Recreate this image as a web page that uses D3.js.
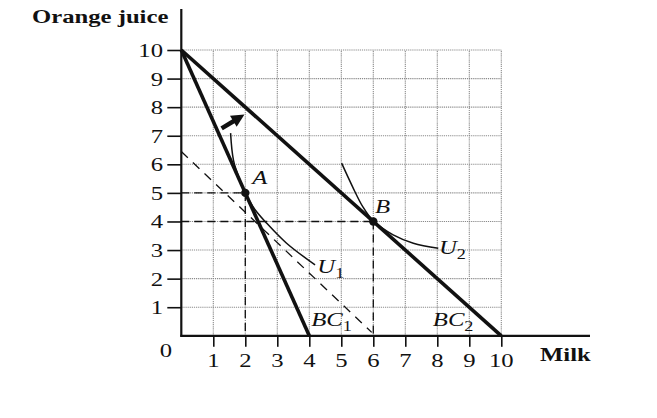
<!DOCTYPE html>
<html><head><meta charset="utf-8">
<script src="https://cdn.jsdelivr.net/npm/d3@7"></script>
<style>
html,body{margin:0;padding:0;background:#fff;}
svg{display:block;}
text{font-family:"Liberation Serif","Times New Roman",serif;fill:#111;}
</style></head>
<body>
<svg id="c" width="657" height="418"></svg>
<script>
// ---- data ----
const xTicks = [1,2,3,4,5,6,7,8,9,10];
const yTicks = [1,2,3,4,5,6,7,8,9,10];
const bc1 = [[0,10],[4,0]];
const bc2 = [[0,10],[10,0]];
const compLine = [[0,6.45],[5.95,0.12]];
const u1 = [[1.54,7.09],[1.63,6.15],[1.83,5.45],[2,5],[2.3,4.42],[2.67,3.94],[3.29,3.24],[4.18,2.48]];
const u2 = [[5.01,6.04],[5.35,5.22],[5.67,4.52],[6,4.02],[6.62,3.53],[7.25,3.24],[8.03,3.06]];
const points = [{name:"A",x:2,y:5},{name:"B",x:6,y:4}];
const arrow = [[1.26,7.26],[1.99,7.75]];
const labels = [
  {t:"A", s:"", x:2.22, y:5.3},
  {t:"B", s:"", x:6.05, y:4.3},
  {t:"U", s:"1", x:4.25, y:2.2},
  {t:"U", s:"2", x:8.05, y:2.85},
  {t:"BC", s:"1", x:4.06, y:0.34},
  {t:"BC", s:"2", x:7.86, y:0.34}
];

const SX = 1.3; // horizontal glyph stretch seen in the reference
const svg = d3.select("#c");
const x = d3.scaleLinear().domain([0,10]).range([181.3,501.3]);
const y = d3.scaleLinear().domain([0,10]).range([335.8,50]);

// grid
const g = svg.append("g");
g.selectAll(".gv").data(xTicks).join("line")
  .attr("x1",d=>x(d)).attr("x2",d=>x(d)).attr("y1",y(0)).attr("y2",y(10))
  .attr("stroke","#8a8a8a").attr("stroke-width",1.1).attr("stroke-dasharray","1.2,0.9");
g.selectAll(".gh").data(yTicks).join("line")
  .attr("x1",x(0)).attr("x2",x(10)).attr("y1",d=>y(d)).attr("y2",d=>y(d))
  .attr("stroke","#8a8a8a").attr("stroke-width",1.1).attr("stroke-dasharray","1.2,0.9");

// axes ticks via d3
const xa = svg.append("g").attr("transform",`translate(0,${y(0)})`)
  .call(d3.axisBottom(x).tickValues(xTicks).tickSize(11).tickFormat(""));
xa.select(".domain").remove();
xa.selectAll("line").attr("stroke","#111").attr("stroke-width",1.6);
const ya = svg.append("g").attr("transform",`translate(${x(0)},0)`)
  .call(d3.axisLeft(y).tickValues(yTicks).tickSize(14).tickFormat(""));
ya.select(".domain").remove();
ya.selectAll("line").attr("stroke","#111").attr("stroke-width",1.6);

// axis lines
svg.append("line").attr("x1",x(0)-1).attr("x2",590).attr("y1",y(0)).attr("y2",y(0))
  .attr("stroke","#111").attr("stroke-width",2.2);
svg.append("line").attr("x1",x(0)).attr("x2",x(0)).attr("y1",y(0)+1).attr("y2",9)
  .attr("stroke","#111").attr("stroke-width",2.2);

// tick labels
svg.selectAll(".xl").data(xTicks).join("text")
  .attr("transform",d=>`translate(${x(d)},366.5) scale(${SX},1)`)
  .attr("text-anchor","middle").attr("font-size",19).text(d=>d);
svg.selectAll(".yl").data(yTicks).join("text")
  .attr("transform",d=>`translate(163,${y(d)+7}) scale(${SX},1)`)
  .attr("text-anchor","end").attr("font-size",19).text(d=>d);
svg.append("text").attr("transform",`translate(166,356.5) scale(${SX},1)`)
  .attr("text-anchor","middle").attr("font-size",19).text("0");

// axis titles
svg.append("text").attr("transform",`translate(32,23) scale(${SX},1)`)
  .attr("font-size",19).attr("font-weight","bold").text("Orange juice");
svg.append("text").attr("transform",`translate(540,360.5) scale(${SX},1)`)
  .attr("font-size",19).attr("font-weight","bold").text("Milk");

// dashed reference lines
const dash = "8,5";
points.forEach(p=>{
  svg.append("line").attr("x1",x(0)).attr("x2",x(p.x)).attr("y1",y(p.y)).attr("y2",y(p.y))
    .attr("stroke","#111").attr("stroke-width",1.3).attr("stroke-dasharray",dash);
  svg.append("line").attr("x1",x(p.x)).attr("x2",x(p.x)).attr("y1",y(p.y)).attr("y2",y(0))
    .attr("stroke","#111").attr("stroke-width",1.3).attr("stroke-dasharray",dash);
});
const line = d3.line().x(d=>x(d[0])).y(d=>y(d[1]));
svg.append("path").attr("d",line(compLine)).attr("fill","none")
  .attr("stroke","#111").attr("stroke-width",1.3).attr("stroke-dasharray","9,7");

// budget lines
[bc1,bc2].forEach(b=>{
  svg.append("path").attr("d",line(b)).attr("fill","none")
    .attr("stroke","#111").attr("stroke-width",3.6);
});

// indifference curves
const curve = d3.line().x(d=>x(d[0])).y(d=>y(d[1])).curve(d3.curveCatmullRom.alpha(0.5));
[u1,u2].forEach(u=>{
  svg.append("path").attr("d",curve(u)).attr("fill","none")
    .attr("stroke","#111").attr("stroke-width",1.5);
});

// points
svg.selectAll(".pt").data(points).join("circle")
  .attr("cx",d=>x(d.x)).attr("cy",d=>y(d.y)).attr("r",4.2).attr("fill","#111");

// arrow
const defs = svg.append("defs");
defs.append("marker").attr("id","ah").attr("viewBox","0 0 10 10").attr("refX",2).attr("refY",5)
  .attr("markerWidth",14).attr("markerHeight",13).attr("markerUnits","userSpaceOnUse")
  .attr("orient","auto").append("path").attr("d","M0,0 L10,5 L0,10 z").attr("fill","#111");
const ax0 = x(arrow[0][0]), ay0 = y(arrow[0][1]), ax1 = x(arrow[1][0]), ay1 = y(arrow[1][1]);
const ang = Math.atan2(ay1-ay0, ax1-ax0);
svg.append("line").attr("x1",ax0).attr("y1",ay0)
  .attr("x2",ax1-11*Math.cos(ang)).attr("y2",ay1-11*Math.sin(ang))
  .attr("stroke","#111").attr("stroke-width",4.5).attr("marker-end","url(#ah)");

// labels
labels.forEach(l=>{
  const t = svg.append("text").attr("transform",`translate(${x(l.x)},${y(l.y)}) scale(${SX},1)`)
    .attr("font-size",19).attr("font-style","italic");
  t.append("tspan").text(l.t);
  if(l.s) t.append("tspan").attr("font-style","normal").attr("font-size",14).attr("dy",5).text(l.s);
});
</script>
</body></html>
